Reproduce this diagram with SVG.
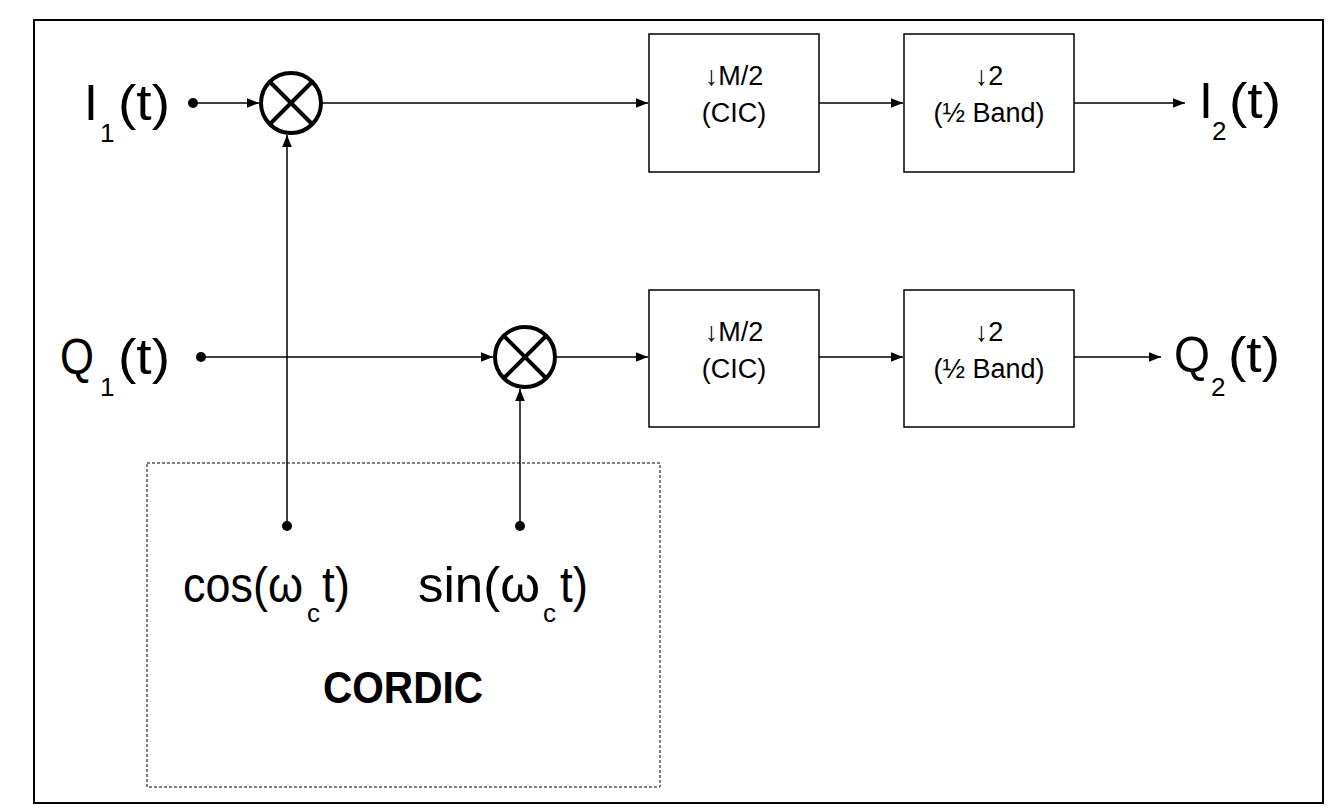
<svg xmlns="http://www.w3.org/2000/svg" width="1333" height="809" viewBox="0 0 1333 809">
<style>
.b{fill:#fff;stroke:#000;stroke-width:1.5}
.l{stroke:#000;stroke-width:1.5;fill:none}
.t{font-family:"Liberation Sans",Arial,sans-serif;fill:#000}
.big{font-size:50px}
.sub{font-size:26px}
.box{font-size:27px;text-anchor:middle}
</style>
<defs>
<marker id="a" viewBox="0 0 10 10" refX="10" refY="5" markerWidth="22" markerHeight="12" markerUnits="userSpaceOnUse" orient="auto"><path d="M0,1L10,5L0,9z" fill="#000"/></marker>
</defs>
<rect x="0" y="0" width="1333" height="809" fill="#fff"/>
<rect x="34" y="20" width="1289" height="783" fill="none" stroke="#000" stroke-width="2"/>
<g id="cordic">
<rect x="147" y="463" width="513" height="324" fill="none" stroke="#000" stroke-width="1" stroke-dasharray="3,2"/>
<text class="t big" x="183" y="602" textLength="120" lengthAdjust="spacingAndGlyphs">cos(ω</text>
<text class="t sub" x="307" y="622">c</text>
<text class="t big" x="322" y="602" textLength="28" lengthAdjust="spacingAndGlyphs">t)</text>
<text class="t big" x="418" y="602" textLength="122" lengthAdjust="spacingAndGlyphs">sin(ω</text>
<text class="t sub" x="543" y="622">c</text>
<text class="t big" x="560" y="602" textLength="28" lengthAdjust="spacingAndGlyphs">t)</text>
<text class="t" x="403" y="703" font-size="44" font-weight="bold" text-anchor="middle" textLength="160" lengthAdjust="spacingAndGlyphs">CORDIC</text>
</g>
<g id="i1"><text class="t big" x="84" y="120">I</text><text class="t sub" x="100" y="142">1</text><text class="t big" x="118" y="120" textLength="52" lengthAdjust="spacingAndGlyphs">(t)</text></g>
<g id="q1"><text class="t big" x="60" y="374" textLength="34" lengthAdjust="spacingAndGlyphs">Q</text><text class="t sub" x="100" y="396">1</text><text class="t big" x="118" y="374" textLength="52" lengthAdjust="spacingAndGlyphs">(t)</text></g>
<g id="i2"><text class="t big" x="1199" y="118">I</text><text class="t sub" x="1212" y="140">2</text><text class="t big" x="1229" y="118" textLength="52" lengthAdjust="spacingAndGlyphs">(t)</text></g>
<g id="q2"><text class="t big" x="1174" y="372" textLength="36" lengthAdjust="spacingAndGlyphs">Q</text><text class="t sub" x="1211" y="396">2</text><text class="t big" x="1228" y="372" textLength="52" lengthAdjust="spacingAndGlyphs">(t)</text></g>
<g id="mix1"><circle cx="291" cy="103" r="30" fill="#fff" stroke="#000" stroke-width="4"/><path d="M270,82L312,124M312,82L270,124" stroke="#000" stroke-width="4"/></g>
<g id="mix2"><circle cx="525" cy="357" r="30" fill="#fff" stroke="#000" stroke-width="4"/><path d="M504,336L546,378M546,336L504,378" stroke="#000" stroke-width="4"/></g>
<g id="cic1"><rect class="b" x="649" y="34" width="170" height="138"/><text class="t box" x="734" y="85">↓M/2</text><text class="t box" x="734" y="122">(CIC)</text></g>
<g id="hb1"><rect class="b" x="904" y="34" width="170" height="138"/><text class="t box" x="989" y="85">↓2</text><text class="t box" x="989" y="122">(½ Band)</text></g>
<g id="cic2"><rect class="b" x="649" y="290" width="170" height="137"/><text class="t box" x="734" y="341">↓M/2</text><text class="t box" x="734" y="378">(CIC)</text></g>
<g id="hb2"><rect class="b" x="904" y="290" width="170" height="137"/><text class="t box" x="989" y="341">↓2</text><text class="t box" x="989" y="378">(½ Band)</text></g>
<g id="connectors">
<circle cx="193" cy="103" r="5"/><circle cx="201" cy="357" r="5"/><circle cx="287" cy="526" r="5"/><circle cx="520" cy="526" r="5"/>
<path class="l" d="M193,103H259" marker-end="url(#a)"/>
<path class="l" d="M321,103H648" marker-end="url(#a)"/>
<path class="l" d="M819,103H903" marker-end="url(#a)"/>
<path class="l" d="M1074,103H1185" marker-end="url(#a)"/>
<path class="l" d="M201,357H493" marker-end="url(#a)"/>
<path class="l" d="M555,357H648" marker-end="url(#a)"/>
<path class="l" d="M819,357H903" marker-end="url(#a)"/>
<path class="l" d="M1074,357H1161" marker-end="url(#a)"/>
<path class="l" d="M287,526V135" marker-end="url(#a)"/>
<path class="l" d="M520,526V389" marker-end="url(#a)"/>
</g>
</svg>
